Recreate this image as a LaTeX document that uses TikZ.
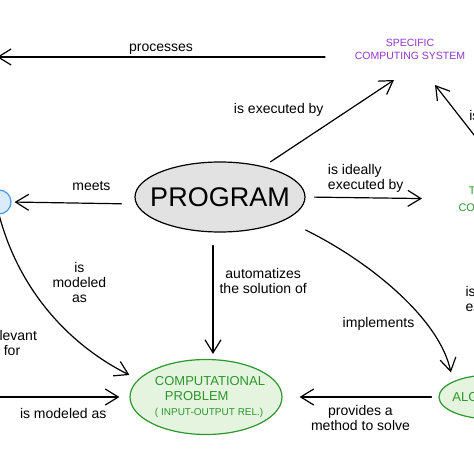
\documentclass[tikz,border=0pt]{standalone}
\usepackage{fontspec}
\setmainfont{Liberation Sans}
\usetikzlibrary{shapes, arrows.meta, calc}

\definecolor{sysPurple}{RGB}{145,55,205}
\definecolor{probGreen}{RGB}{45,150,45}
\definecolor{probFill}{RGB}{228,244,222}
\definecolor{progFill}{RGB}{226,226,226}
\definecolor{realBlue}{RGB}{75,150,220}
\definecolor{realFill}{RGB}{218,236,250}

\begin{document}
\begin{tikzpicture}[
    x = 1pt, y = -1pt,
    line width = 1.2pt,
    line cap = round, line join = round,
    > = {Straight Barb[length = 13pt, width = 16pt]},
    concept/.style = {ellipse,
      draw,
      inner sep = 0pt},
    relation/.style = {font = \fontsize{14}{15}\selectfont,
      inner sep = 2pt}
    ]
    \path [use as bounding box, fill = white] (0, 0) rectangle (474, 474);
    \clip (0, 0) rectangle (474, 474);

    \node at (220, 197) [concept, name = P, fill = progFill,
      minimum width = 170pt, minimum height = 70pt,
      font = \fontsize{27}{30}\selectfont] {\makebox[0pt]{PROGRAM}};
    \node at (206, 397) [concept, name = CP, draw = probGreen, fill = probFill,
      text = probGreen, minimum width = 152pt, minimum height = 75pt,
      font = \fontsize{13}{15}\selectfont]
      {\makebox[0pt]{\hspace{8pt}\begin{tabular}{@{}l@{}}
        COMPUTATIONAL\\
        \hspace{10pt}PROBLEM\\
        {\fontsize{10}{12}\selectfont ( INPUT-OUTPUT REL.)}
      \end{tabular}}};
    \node at (491, 397) [concept, name = ALG, draw = probGreen, fill = probFill,
      text = probGreen, minimum width = 104pt, minimum height = 44pt,
      font = \fontsize{13}{15}\selectfont] {\makebox[0pt]{ALGORITHM}};
    \node at (410, 62) [name = SCS, anchor = south, align = center,
      text = sysPurple, inner sep = 2pt,
      font = \fontsize{10.5}{13}\selectfont] {SPECIFIC\\COMPUTING SYSTEM};
    \node at (490, 199) [name = TC, align = center, text = probGreen,
      inner sep = 2pt, font = \fontsize{11}{17}\selectfont] {TURING\\COMPUTER};
    \node at (-1, 202) [circle, name = W, draw = realBlue, fill = realFill,
      minimum size = 24pt, inner sep = 0pt, text = realBlue!50!black,
      font = \fontsize{7}{8}\selectfont] {\textbullet};

    \node at (12, 343) [relation, name = relLbl, align = center] {relevant\\for};
    \node at (463, 299) [relation, name = algLbl, anchor = west, align = left] {is\\executed};

    \coordinate (procEnd) at (-3, 57);
    \coordinate (tcCorner) at (478, 140);
    \coordinate (leftIn) at (-3, 397);

    \draw [->] ([shift = {(-85, -5)}]SCS.south) to
    node [relation, above] {processes} (procEnd);
    \draw [->] ([shift = {(-10, -10)}]P.north east) to
    node [relation, pos = 0.45, above left, yshift = 6pt] {is executed by}
    ([shift = {(-16, 18)}]SCS.south);
    \draw [->] (tcCorner) to
    node [relation, pos = 0.45, right, xshift = 8pt] {is}
    ([shift = {(25, 23)}]SCS.south);
    \draw [->, shorten <= 9pt, shorten >= 34pt] (P.east) to
    node [relation, pos = 0.4, above = 3pt, align = left] {is ideally\\executed by} (TC.west);
    \draw [->, shorten <= 13pt, shorten >= 3pt] ([yshift = -7pt]P.west) to
    node [relation, pos = 0.35, above = 10pt] {meets} (W.east);

    \draw [->] (W.south) .. controls +(20, 76) and +(-60, -30) .. ([yshift = 22pt]CP.west)
    node [relation, pos = 0.33, right = 22pt, align = center] {is\\modeled\\as};
    \draw [->, shorten >= 10pt] (leftIn) to
    node [relation, below = 9pt] {is modeled as} (CP.west);

    \draw [->, shorten <= 13pt, shorten >= 5pt] ([xshift = -7pt]P.south) to
    node [relation, pos = 0.38, right = 4pt, align = center] {automatizes\\the solution of}
    ([xshift = 7pt]CP.north);
    \draw [->] ([yshift = -33pt]P.east) .. controls +(65, 32) and +(-11, -53) .. ([yshift = 10pt]ALG.160)
    node [relation, pos = 0.7, left = 10pt] {implements};
    \draw [->, shorten <= 7pt, shorten >= 17pt] (ALG.west) to
    node [relation, below = 6pt, align = center] {provides a\\method to solve} (CP.east);
  \end{tikzpicture}
\end{document}
